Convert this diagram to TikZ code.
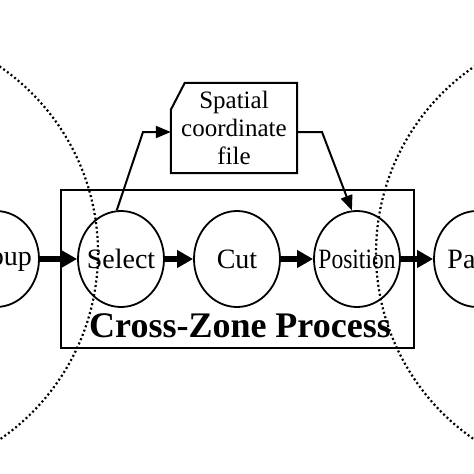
\documentclass[tikz,border=0pt]{standalone}
\usepackage{fontspec}
\setmainfont{Liberation Serif}
\usetikzlibrary{shapes.geometric}
\usetikzlibrary{arrows.meta, positioning}
\tikzset{
    stage/.style={draw, ellipse, line width=1.8pt, minimum width=86pt, minimum height=96pt, inner xsep=-14pt, inner ysep=0pt, font=\fontsize{28}{30}\selectfont},
    flow/.style={line width=6pt, -{Triangle[length=16pt,width=17pt]}},
    link/.style={line width=2pt, -{Triangle[length=15pt,width=12pt]}},
    zone/.style={line width=2.2pt, dash pattern=on 2pt off 2.6pt},
    frame/.style={draw, line width=2pt}
}
\def\leftzone{(-128,253) circle (226)}
\def\rightzone{(602,253) circle (226)}

\begin{document}
\begin{tikzpicture}[x=1pt, y=-1pt]
        \useasboundingbox[fill=white] (0,0) rectangle (474,474);
        \clip (0,0) rectangle (474,474);

        % Zones on both sides
        \draw[zone] \leftzone;
        \draw[zone] \rightzone;

        % Process steps
        \node[stage] (grp) at (-4,259) {Group};
        \node[stage] (sel) at (121,259) {Select};
        \node[stage] (cut) at (237,259) {Cut};
        \node[stage] (pos) at (357,259) {\scalebox{0.84}[1]{Position}};
        \node[stage] (pst) at (477,259) {Paste};

        % Cross-zone frame
        \draw[frame] (61,190) rectangle (414,348);
        \node[anchor=base, font=\fontsize{36}{40}\selectfont\bfseries] (title) at (240,337) {Cross-Zone Process};

        % File with a cut corner
        \node[align=center, font=\fontsize{25}{28}\selectfont, minimum width=126pt, minimum height=90pt, inner sep=0pt] (file) at (234,128) {Spatial\\coordinate\\file};
        \draw[frame] ([yshift=-27pt]file.north west) -- ([xshift=14pt]file.north west) -- (file.north east) -- (file.south east) -- (file.south west) -- cycle;

        % Connectors
        \draw[flow] (grp) -- (sel);
        \draw[flow] (sel) -- (cut);
        \draw[flow] (cut) -- (pos);
        \draw[flow] (pos) -- (pst);
        \draw[link] (sel.95) -- (143,132) -- ([yshift=-4pt]file.west);
        \draw[link] ([yshift=-4pt]file.east) -- (322,132) -- (pos.96);
    \end{tikzpicture}
\end{document}
